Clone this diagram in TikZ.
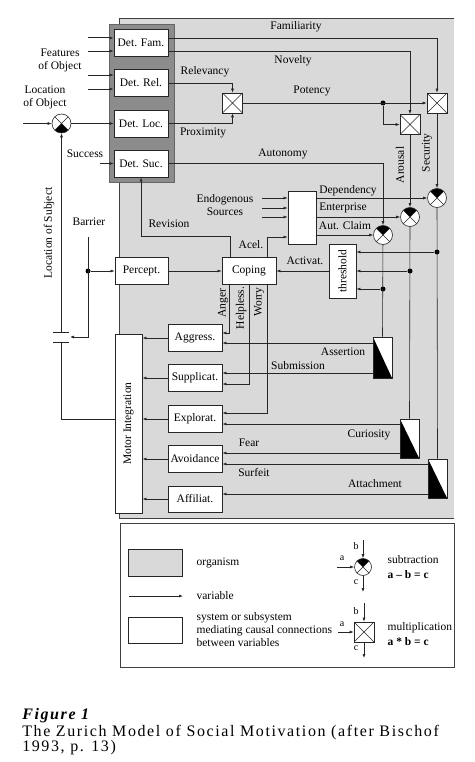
\documentclass[tikz,border=0pt]{standalone}
\usepackage{fontspec}
\setmainfont{Liberation Serif}
\newfontfamily\capfont[LetterSpace=10]{Liberation Serif}
\usetikzlibrary{arrows.meta}
\newcommand\lab{\fontsize{11.5}{13}\selectfont}
\newcommand\lsm{\fontsize{10}{11}\selectfont}
\tikzset{
  arr/.style={-{Latex[length=4pt,width=3pt]}},
  box/.style={draw=black!85,line width=0.9pt,fill=white,minimum width=54pt,minimum height=27pt,inner sep=0pt,font=\lab},
  mult/.style={draw,fill=white,minimum size=20pt,inner sep=0pt,
    path picture={\draw (path picture bounding box.north west)--(path picture bounding box.south east)
      (path picture bounding box.north east)--(path picture bounding box.south west);}},
  subtr/.style={circle,draw,fill=white,minimum size=19pt,inner sep=0pt,
    path picture={\fill[black] (path picture bounding box.center) -- +(#1-45:15pt) -- +(#1+45:15pt) -- cycle;
      \draw (path picture bounding box.center) +(45:12pt) -- +(225:12pt) +(135:12pt) -- +(315:12pt);}},
  wedge/.style={draw,line width=0.9pt,fill=white,minimum width=19pt,minimum height=40pt,inner sep=0pt,
    path picture={\fill[black] (path picture bounding box.north west) -- (path picture bounding box.south west)
      -- (path picture bounding box.south east) -- cycle;}},
  dot/.style={circle,fill,inner sep=0pt,minimum size=5pt}
}
\begin{document}
\begin{tikzpicture}[x=1pt,y=-1pt,line width=0.6pt,draw=black!85,font=\lab]
\useasboundingbox (0,0) rectangle (474,762);
% organism
\fill[gray!30] (119,19) rectangle (454,518);
\draw[black!75,line width=1pt] (454,19)--(119,19)--(119,518)--(454,518);
\filldraw[fill=black!45,draw=black!60] (109,24) rectangle (174,182);
% detectors
\node[box] (fam) at (141,42.5) {Det. Fam.};
\node[box] (rel) at (141,83) {Det. Rel.};
\node[box] (loc) at (141,123.5) {Det. Loc.};
\node[box] (suc) at (141,163.5) {Det. Suc.};
\node[subtr=270] (sloc) at (61.5,123.5) {};
\node[mult] (pmul) at (232.5,103) {};
\node[mult] (amul) at (410,124.5) {};
\node[mult] (smul) at (437,103) {};
% coping system
\node[box,minimum width=53pt] (perc) at (141.5,271) {Percept.};
\node[box] (cop) at (249,271) {Coping};
\node[box,minimum width=28pt,minimum height=53pt] (src) at (302,217.5) {};
\node[box,minimum width=27pt,minimum height=54pt] (thr) at (342.5,271) {};
\node[rotate=90] at (thr) {threshold};
\node[subtr=90] (saut) at (383,235) {};
\node[subtr=90] (sent) at (410,217) {};
\node[subtr=90] (sdep) at (437,198) {};
\node[dot] (daut) at (383,289) {};
\node[dot] (dent) at (410,271) {};
\node[dot] (ddep) at (437,252) {};
\node[dot] (dpot) at (383,103) {};
\node[dot] (dbar) at (88,271) {};
\node[wedge,minimum height=41pt] (asrt) at (382.5,357.5) {};
\node[wedge,minimum height=39pt] (cur) at (409.5,438.5) {};
\node[wedge,minimum height=39pt] (att) at (437.5,478.5) {};
% behaviour
\node[box,minimum width=27pt,minimum height=179pt] (mot) at (128.5,423.5) {};
\node[rotate=90] at (mot) {Motor Integration};
\node[box] (aggr) at (195,338) {Aggress.};
\node[box] (supp) at (195,378) {Supplicat.};
\node[box] (expl) at (195,419) {Explorat.};
\node[box] (avoi) at (195,459) {Avoidance};
\node[box,minimum height=26pt] (affi) at (195,499) {Affiliat.};
% free ends
\coordinate (ifa1) at (88,38);
\coordinate (ifa2) at (88,51);
\coordinate (ire1) at (88,75);
\coordinate (ire2) at (88,89);
\coordinate (iloc) at (23,123.5);
\coordinate (isuc) at (100,163.5);
\coordinate (plt) at (61.5,332);
\coordinate (plb) at (61.5,342);
\coordinate (mloc) at (61.5,419);
\coordinate (bar) at (88,237);
\coordinate (barx) at (70,337);
\coordinate (rev) at (230,236);
\coordinate (acl) at (267,237);
\coordinate (en1) at (262,198);
\coordinate (en2) at (262,208);
\coordinate (en3) at (262,217);
\coordinate (ang) at (229,333);
\coordinate (hlp) at (249,384);
\coordinate (wor) at (267,413);
\coordinate (yas) at (0,343);
\coordinate (ysb) at (0,373);
\coordinate (ycu) at (0,424);
\coordinate (yfe) at (0,453);
\coordinate (ysu) at (0,464);
\coordinate (yat) at (0,494);
% inputs
\draw[arr,line width=1pt] (ifa1) -- (fam.west |- ifa1);
\draw[arr] (ifa2) -- (fam.west |- ifa2);
\draw[arr] (ire1) -- (rel.west |- ire1);
\draw[arr,line width=0.9pt] (ire2) -- (rel.west |- ire2);
\draw[arr] (iloc) -- (sloc);
\draw[arr] (sloc) -- (loc);
\draw[arr] (isuc) -- (suc);
\draw[arr] (plt) -- (sloc);
\draw ([xshift=-8.5pt]plt) -- ([xshift=7.5pt]plt) ([xshift=-8.5pt]plb) -- ([xshift=7.5pt]plb);
\draw (mot.west |- mloc) -- (mloc) -- (plb);
\draw[arr] (bar) -- (bar |- barx) -- (barx);
\draw[arr] (dbar) -- (perc);
% detector outputs
\draw[arr] ([yshift=4.5pt]fam.east) -| (smul);
\draw[arr] ([yshift=-8.5pt]fam.east) -| (amul);
\draw[arr] (rel) -| (pmul);
\draw[arr] (loc) -| (pmul);
\draw[arr] (pmul) -- (smul);
\draw[arr] (dpot) |- (amul);
\draw[arr] (suc) -| (saut);
\draw[arr] (amul) -- (sent);
\draw[arr] (smul) -- (sdep);
% coping
\draw[arr] (perc) -- (cop);
\draw[arr] (cop.north -| rev) -- (rev) -| (suc.south);
\draw[arr] (cop.north -| acl) -- (acl) -- (src.west |- acl);
\foreach \e in {en1,en2,en3} \draw[arr] (\e) -- (src.west |- \e);
\draw[arr] (src.east |- sdep) -- (sdep);
\draw[arr] (src.east |- sent) -- (sent);
\draw[arr] (src.east |- saut) -- (saut);
\draw (saut) -- (asrt.north);
\draw (sent) -- (cur.north);
\draw (sdep) -- (att.north);
\draw[arr] (ddep) -- (thr.east |- ddep);
\draw[arr] (dent) -- (thr.east |- dent);
\draw[arr] (daut) -- (thr.east |- daut);
\draw[arr] (thr) -- (cop);
\draw[arr] (cop.south -| ang) |- (aggr.east |- ang);
\draw[arr] (cop.south -| hlp) |- (supp.east |- hlp);
\draw[arr] (cop.south -| wor) |- (expl.east |- wor);
\draw[arr] (asrt.west |- yas) -- (aggr.east |- yas);
\draw[arr] (asrt.west |- ysb) -- (supp.east |- ysb);
\draw[arr] (cur.west |- ycu) -- (expl.east |- ycu);
\draw[arr] (cur.west |- yfe) -- (avoi.east |- yfe);
\draw[arr] (att.west |- ysu) -- (avoi.east |- ysu);
\draw[arr] (att.west |- yat) -- (affi.east |- yat);
\foreach \b in {aggr,supp,expl,avoi,affi} \draw[arr,line width=0.9pt] (\b) -- (mot.east |- \b);
% labels
\node[align=center] at (60,60.5) {Features\\of Object};
\node[align=center] at (45,97) {Location\\of Object};
\node at (85,154) {Success};
\node[rotate=90] at (49,233) {Location of Subject};
\node at (89,222) {Barrier};
\node at (169,224) {Revision};
\node[align=center] at (225,205) {Endogenous\\Sources};
\node at (251,245) {Acel.};
\node at (305,261) {Activat.};
\node at (296,27) {Familiarity};
\node at (293,61) {Novelty};
\node at (205,72) {Relevancy};
\node at (203,133) {Proximity};
\node at (312,91) {Potency};
\node at (283,154) {Autonomy};
\node[rotate=90] at (400,165) {Arousal};
\node[rotate=90] at (427,153) {Security};
\node at (348,191) {Dependency};
\node at (343,208) {Enterprise};
\node at (345,226) {Aut. Claim};
\node[rotate=90] at (223,303) {Anger};
\node[rotate=90] at (241,308) {Helpless.};
\node[rotate=90] at (259,302) {Worry};
\node at (343,352) {Assertion};
\node at (298,366) {Submission};
\node at (369,435) {Curiosity};
\node at (249,443) {Fear};
\node at (254,473) {Surfeit};
\node at (375,484) {Attachment};
% legend
\filldraw[fill=white,draw=black!75,line width=1pt] (120,523) rectangle (454,667);
\node[box,fill=gray!30] (lorg) at (155,562.5) {};
\node[anchor=west] at (193,563) {organism};
\coordinate (lva) at (129,596);
\coordinate (lvb) at (183,596);
\draw[arr] (lva) -- (lvb);
\node[anchor=west] at (193,596) {variable};
\node[box,minimum height=26pt] (lsys) at (155,630) {};
\node[anchor=west,align=left] at (193,630) {system or subsystem\\mediating causal connections\\between variables};
\node[subtr=90,minimum size=17pt] (lsub) at (363,567) {};
\coordinate (lsb) at (363,540);
\coordinate (lsa) at (337,567);
\coordinate (lsc) at (363,592);
\draw[arr] (lsb) -- (lsub);
\draw[arr] (lsa) -- (lsub);
\draw[arr] (lsub) -- (lsc);
\node[font=\lsm] at (356,546) {b};
\node[font=\lsm] at (342,558) {a};
\node[font=\lsm] at (356,582) {c};
\node[anchor=west] at (384,560) {subtraction};
\node[anchor=west,font=\lab\bfseries] at (384,575) {a -- b = c};
\node[mult] (lmul) at (364,632) {};
\coordinate (lmb) at (364,603);
\coordinate (lma) at (338,632);
\coordinate (lmc) at (364,658);
\draw[arr] (lmb) -- (lmul);
\draw[arr] (lma) -- (lmul);
\draw[arr] (lmul) -- (lmc);
\node[font=\lsm] at (356,611) {b};
\node[font=\lsm] at (342,624) {a};
\node[font=\lsm] at (356,648) {c};
\node[anchor=west] at (384,628) {multiplication};
\node[anchor=west,font=\lab\bfseries] at (384,642) {a * b = c};
% caption
\node[anchor=base west,inner sep=0pt,font=\capfont\fontsize{16}{17}\selectfont\bfseries\itshape] at (22,719) {Figure 1};
\node[anchor=base west,inner sep=0pt,font=\capfont\fontsize{16}{17}\selectfont] at (22,736) {The Zurich Model of Social Motivation (after Bischof};
\node[anchor=base west,inner sep=0pt,font=\capfont\fontsize{16}{17}\selectfont] at (22,751) {1993, p. 13)};
\end{tikzpicture}
\end{document}
